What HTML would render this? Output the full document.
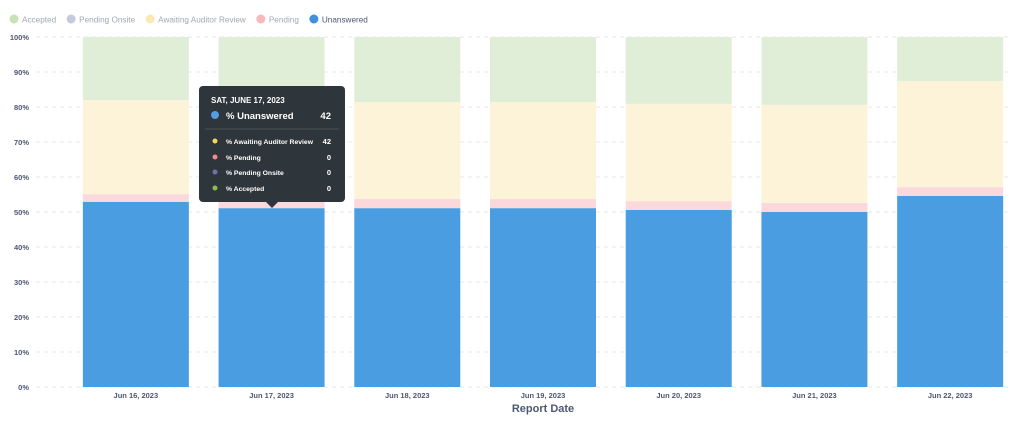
<!DOCTYPE html>
<html><head><meta charset="utf-8"><style>
body{margin:0;background:#fff;font-family:"Liberation Sans",sans-serif;}
svg text{font-family:"Liberation Sans",sans-serif;}
</style></head><body>
<svg id="chart" width="1024" height="417" xmlns="http://www.w3.org/2000/svg">
<g id="legend"></g>
<g id="grid"></g>
<g id="bars"></g>
<g id="xlabels"></g>
<text x="543" y="412" text-anchor="middle" font-size="11" font-weight="bold" fill="#4c5773">Report Date</text>
<g id="tooltip">
<rect x="199" y="86" width="146" height="116" rx="4" fill="#2e353b"/>
<path d="M266 202 L272 208 L278 202 Z" fill="#2e353b"/>
<text x="211" y="103" font-size="8" font-weight="bold" fill="#fff">SAT, JUNE 17, 2023</text>
<circle cx="215" cy="115" r="4" fill="#509ee3"/>
<text x="226" y="119" font-size="9.5" font-weight="bold" fill="#fff">% Unanswered</text>
<text x="331" y="119" font-size="9.5" font-weight="bold" fill="#fff" text-anchor="end">42</text>
<line x1="205" y1="129" x2="339" y2="129" stroke="#4a5258"/>
<circle cx="215" cy="141" r="2.5" fill="#f9d45c"/><text x="226" y="144" font-size="6.8" font-weight="bold" fill="#fff">% Awaiting Auditor Review</text><text x="331" y="144" font-size="7.5" font-weight="bold" fill="#fff" text-anchor="end">42</text>
<circle cx="215" cy="157" r="2.5" fill="#ef8c8c"/><text x="226" y="160" font-size="6.8" font-weight="bold" fill="#fff">% Pending</text><text x="331" y="160" font-size="7.5" font-weight="bold" fill="#fff" text-anchor="end">0</text>
<circle cx="215" cy="172" r="2.5" fill="#7172ad"/><text x="226" y="175" font-size="6.8" font-weight="bold" fill="#fff">% Pending Onsite</text><text x="331" y="175" font-size="7.5" font-weight="bold" fill="#fff" text-anchor="end">0</text>
<circle cx="215" cy="188" r="2.5" fill="#88bf4d"/><text x="226" y="191" font-size="6.8" font-weight="bold" fill="#fff">% Accepted</text><text x="331" y="191" font-size="7.5" font-weight="bold" fill="#fff" text-anchor="end">0</text>
</g>
</svg>
<script>
const categories=["Jun 16, 2023","Jun 17, 2023","Jun 18, 2023","Jun 19, 2023","Jun 20, 2023","Jun 21, 2023","Jun 22, 2023"];
const unanswered=[52.9,51.1,51.1,51.1,50.6,50.0,54.6];
const pending=[2.2,2.4,2.6,2.6,2.5,2.6,2.5];
const pendingOnsite=[0,0,0,0,0,0,0];
const awaiting=[26.9,28.0,27.7,27.7,27.8,28.0,30.3];
const accepted=[18.0,18.5,18.6,18.6,19.1,19.4,12.6];
const yTicks=[0,10,20,30,40,50,60,70,80,90,100];
const NS="http://www.w3.org/2000/svg";
const y0=387,y1=37,xL=68,xR=1018;
const y=v=>y0-(v/100)*(y0-y1);
const step=(xR-xL)/categories.length;
const xc=i=>xL+step*(i+0.5);
const bw=106;
function mk(tag,attrs,parent){const e=document.createElementNS(NS,tag);for(const k in attrs)e.setAttribute(k,attrs[k]);parent.appendChild(e);return e;}
const grid=document.getElementById('grid');
yTicks.forEach(t=>{
 const l=mk('line',{x1:36,x2:1012,y1:y(t),y2:y(t),stroke:'#e6e8ea','stroke-dasharray':'4,4'},grid);
 
 
 const tx=mk('text',{x:29,y:y(t)+3,'text-anchor':'end','font-size':7.5,'font-weight':'bold',fill:'#4c5773'},grid);
 tx.textContent=t+'%';
 
 
});
const series=[["unanswered",unanswered,"#4a9de0"],["pending",pending,"#fad8dc"],["pending-onsite",pendingOnsite,"#dcdcec"],["awaiting",awaiting,"#fdf3d8"],["accepted",accepted,"#e0eed7"]];
const bars=document.getElementById('bars'),xl=document.getElementById('xlabels');
categories.forEach((c,i)=>{
 let acc=0;
 series.forEach(([n,arr,col])=>{
  const v=arr[i];if(v<=0){return;}
  const r=mk('rect',{x:xc(i)-bw/2,y:y(acc+v),width:bw,height:y(acc)-y(acc+v),fill:col},bars);
  
  
  acc+=v;
 });
 const t=mk('text',{x:xc(i),y:398,'text-anchor':'middle','font-size':7.5,'font-weight':'bold',fill:'#4c5773'},xl);
 t.textContent=c;
 
 
});
const leg=[["Accepted","#c7e3b4","#a0a7b4"],["Pending Onsite","#c8c8de","#a0a7b4"],["Awaiting Auditor Review","#fbe9b4","#a0a7b4"],["Pending","#f7baba","#a0a7b4"],["Unanswered","#3f8fde","#4c5773"]];
const lg=document.getElementById('legend');
let lx=9;
leg.forEach(([n,c,tc])=>{
 const g=mk('g',{},lg);
 
 
 mk('circle',{cx:lx+5,cy:19,r:4.5,fill:c},g);
 const t=mk('text',{x:lx+13,y:22.5,'font-size':8.2,fill:tc},g);
 t.textContent=n;
 const w=t.getComputedTextLength();
 lx+=13+w+10;
});
</script>
</body></html>
